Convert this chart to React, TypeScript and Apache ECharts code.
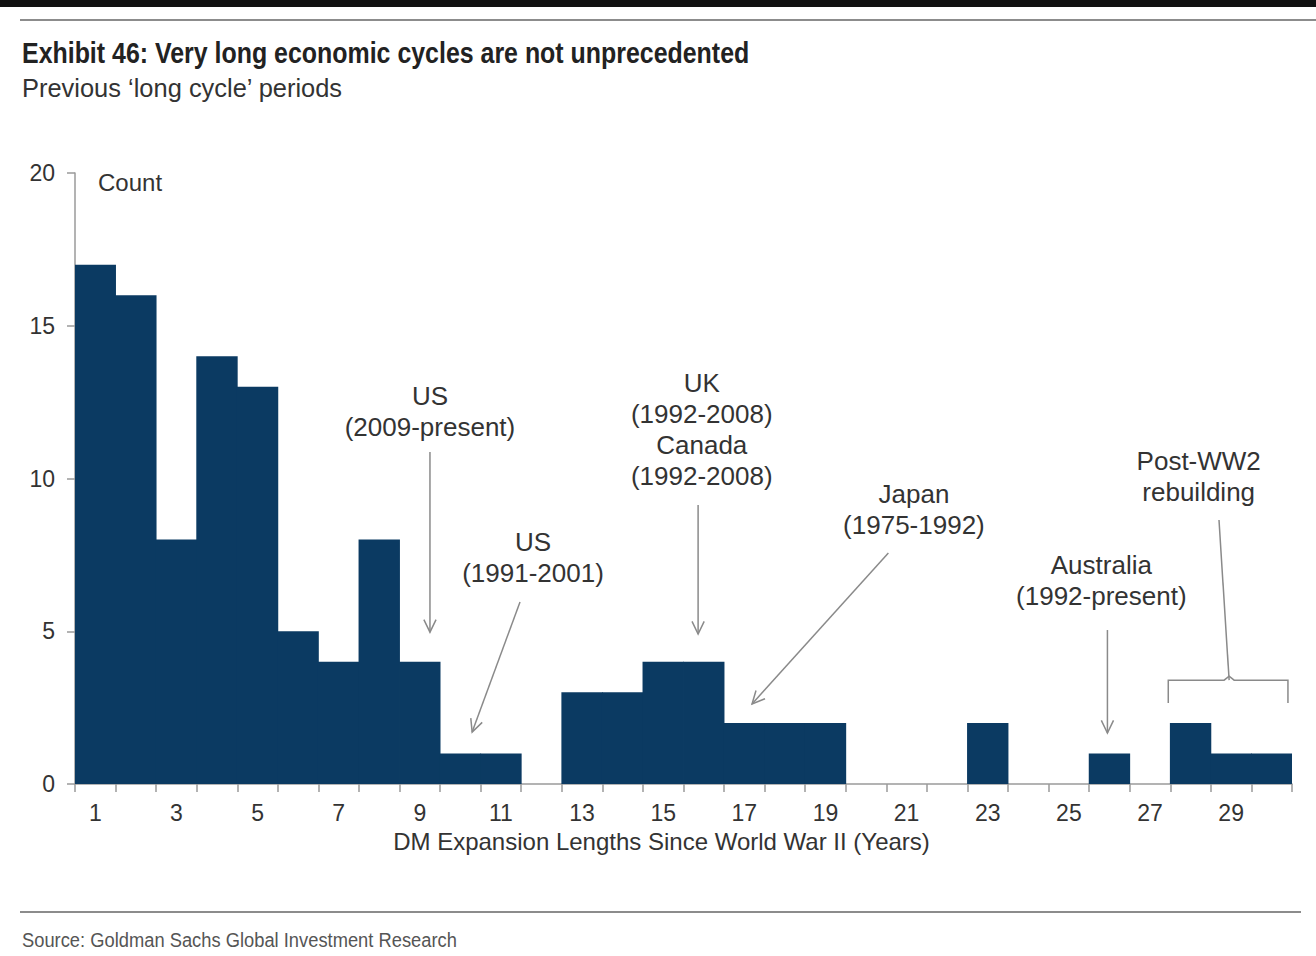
import React, { useEffect, useRef } from "react";
import * as echarts from "echarts";

// ---- data ----
const categories: string[] = [
  "1", "2", "3", "4", "5", "6", "7", "8", "9", "10",
  "11", "12", "13", "14", "15", "16", "17", "18", "19", "20",
  "21", "22", "23", "24", "25", "26", "27", "28", "29", "30",
];
const counts: number[] = [
  17, 16, 8, 14, 13, 5, 4, 8, 4, 1,
  1, 0, 3, 3, 4, 4, 2, 2, 2, 0,
  0, 0, 2, 0, 0, 1, 0, 2, 1, 1,
];
const yTickValues: number[] = [0, 5, 10, 15, 20];

const titleText = "Exhibit 46: Very long economic cycles are not unprecedented";
const subtitleText = "Previous \u2018long cycle\u2019 periods";
const sourceText = "Source: Goldman Sachs Global Investment Research";
const xAxisName = "DM Expansion Lengths Since World War II (Years)";
const yAxisName = "Count";

// annotation texts
const annotationTexts: string[] = [
  "US\n(2009-present)",
  "US\n(1991-2001)",
  "UK\n(1992-2008)\nCanada\n(1992-2008)",
  "Japan\n(1975-1992)",
  "Australia\n(1992-present)",
  "Post-WW2\nrebuilding",
];

// annotation placement in axis units (u: 0 = left edge of first bin, v: count)
const annotationLayout = [
  { u: 8.75, v: 12.19, from: [8.75, 10.87], to: [8.75, 4.97], head: true },
  { u: 11.29, v: 7.41, from: [10.97, 5.96], to: [9.79, 1.7], head: true },
  { u: 15.45, v: 11.59, from: [15.36, 9.13], to: [15.36, 4.91], head: true },
  { u: 20.68, v: 8.99, from: [20.05, 7.56], to: [16.69, 2.62], head: true },
  { u: 25.3, v: 6.66, from: [25.45, 5.04], to: [25.45, 1.67], head: true },
  { u: 27.7, v: 10.07, from: [28.2, 8.64], to: [28.45, 3.4], head: false },
];
const bracketLayout = { u0: 26.95, u1: 29.9, peak: 28.45, top: 3.4, bottom: 2.65 };

const SANS = '"Liberation Sans", Arial, Helvetica, sans-serif';
const BAR_COLOR = "#0b3a62";
const AXIS_COLOR = "#9a9a9a";
const TEXT_COLOR = "#333333";
const ARROW_COLOR = "#8a8a8a";

function condensedText(text: string, font: string, targetWidth: number, x: number, y: number, fill: string) {
  let scale = 0.8;
  try {
    const ctx = document.createElement("canvas").getContext("2d");
    if (ctx) {
      ctx.font = font;
      const w = ctx.measureText(text).width;
      if (w > 0) scale = targetWidth / w;
    }
  } catch (e) {
    /* keep default */
  }
  return {
    type: "text",
    x,
    y,
    scaleX: scale,
    style: { text, fill, font, align: "left", verticalAlign: "middle" },
  };
}

export default function App() {
  const ref = useRef<HTMLDivElement>(null);

  useEffect(() => {
    if (!ref.current) return;
    const chart = echarts.init(ref.current, null, { renderer: "svg" });

    chart.setOption({
      animation: false,
      backgroundColor: "#ffffff",
      grid: { left: 75, right: 24, top: 173, bottom: 172, containLabel: false },
      xAxis: {
        type: "category",
        data: categories,
        boundaryGap: true,
        axisLine: { show: true, lineStyle: { color: AXIS_COLOR, width: 1.5 } },
        axisTick: { show: true, interval: 0, length: 8, lineStyle: { color: AXIS_COLOR, width: 1.5 } },
        axisLabel: { interval: 1, margin: 17, fontSize: 23, color: TEXT_COLOR, fontFamily: SANS },
        splitLine: { show: false },
        name: xAxisName,
        nameLocation: "middle",
        nameGap: 45,
        nameTextStyle: { fontSize: 24, color: TEXT_COLOR, fontFamily: SANS, padding: [0, 44, 0, 0] },
      },
      yAxis: {
        type: "value",
        min: yTickValues[0],
        max: yTickValues[yTickValues.length - 1],
        interval: yTickValues[1] - yTickValues[0],
        axisLine: { show: true, lineStyle: { color: AXIS_COLOR, width: 1.5 } },
        axisTick: { show: true, length: 8, lineStyle: { color: AXIS_COLOR, width: 1.5 } },
        axisLabel: { margin: 20, fontSize: 23, color: TEXT_COLOR, fontFamily: SANS },
        splitLine: { show: false },
      },
      series: [
        {
          type: "bar",
          data: counts,
          barWidth: "102%",
          barCategoryGap: "0%",
          itemStyle: { color: BAR_COLOR, borderWidth: 0 },
          silent: true,
        },
      ],
    });

    // map axis units to pixels through the chart's own scales
    const p0 = chart.convertToPixel({ xAxisIndex: 0 }, 0) as number;
    const pN = chart.convertToPixel({ xAxisIndex: 0 }, categories.length - 1) as number;
    const step = (pN - p0) / (categories.length - 1);
    const px = (u: number) => p0 + (u - 0.5) * step;
    const py = (v: number) => chart.convertToPixel({ yAxisIndex: 0 }, v) as number;

    const graphics: any[] = [];

    // frame decorations
    graphics.push({ type: "rect", shape: { x: 0, y: 0, width: 1316, height: 7 }, style: { fill: "#111111" } });
    graphics.push({ type: "line", shape: { x1: 20, y1: 20, x2: 1316, y2: 20 }, style: { stroke: "#8c8c8c", lineWidth: 2 } });
    graphics.push({ type: "line", shape: { x1: 20, y1: 912, x2: 1301, y2: 912 }, style: { stroke: "#8c8c8c", lineWidth: 2 } });

    graphics.push(condensedText(titleText, `bold 29px ${SANS}`, 728, 22, 53, "#222222"));
    graphics.push(condensedText(subtitleText, `26px ${SANS}`, 321, 22, 88, "#333333"));
    graphics.push(condensedText(sourceText, `21px ${SANS}`, 435, 22, 940, "#555555"));

    // y axis caption
    graphics.push({
      type: "text", x: px(0) + 23, y: py(yTickValues[yTickValues.length - 1]) + 9,
      style: { text: yAxisName, fill: TEXT_COLOR, font: `24px ${SANS}`, align: "left", verticalAlign: "middle" },
    });

    const arrowHead = (x1: number, y1: number, x2: number, y2: number) => {
      const a = Math.atan2(y2 - y1, x2 - x1);
      const len = 14;
      const ang = 0.45;
      return [
        [x2 - len * Math.cos(a - ang), y2 - len * Math.sin(a - ang)],
        [x2, y2],
        [x2 - len * Math.cos(a + ang), y2 - len * Math.sin(a + ang)],
      ];
    };

    annotationLayout.forEach((a, i) => {
      graphics.push({
        type: "text", x: px(a.u), y: py(a.v),
        style: {
          text: annotationTexts[i], fill: TEXT_COLOR, font: `26px ${SANS}`,
          align: "center", verticalAlign: "middle", lineHeight: 31,
        },
      });
      const x1 = px(a.from[0]), y1 = py(a.from[1]);
      const x2 = px(a.to[0]), y2 = py(a.to[1]);
      graphics.push({
        type: "line", shape: { x1, y1, x2, y2 },
        style: { stroke: ARROW_COLOR, lineWidth: 1.5 },
      });
      if (a.head) {
        graphics.push({
          type: "polyline", shape: { points: arrowHead(x1, y1, x2, y2) },
          style: { stroke: ARROW_COLOR, lineWidth: 1.5, fill: "none" },
        });
      }
    });

    // bracket for post-war group
    graphics.push({
      type: "polyline",
      shape: {
        points: [
          [px(bracketLayout.u0), py(bracketLayout.bottom)],
          [px(bracketLayout.u0), py(bracketLayout.top)],
          [px(bracketLayout.peak) - 5, py(bracketLayout.top)],
          [px(bracketLayout.peak), py(bracketLayout.top) - 4],
          [px(bracketLayout.peak) + 5, py(bracketLayout.top)],
          [px(bracketLayout.u1), py(bracketLayout.top)],
          [px(bracketLayout.u1), py(bracketLayout.bottom)],
        ],
      },
      style: { stroke: ARROW_COLOR, lineWidth: 1.5, fill: "none" },
    });

    chart.setOption({ graphic: graphics });

    return () => {
      chart.dispose();
    };
  }, []);

  return (
    <div
      ref={ref}
      style={{ position: "fixed", left: 0, top: 0, width: 1316, height: 956, background: "#ffffff" }}
    />
  );
}
